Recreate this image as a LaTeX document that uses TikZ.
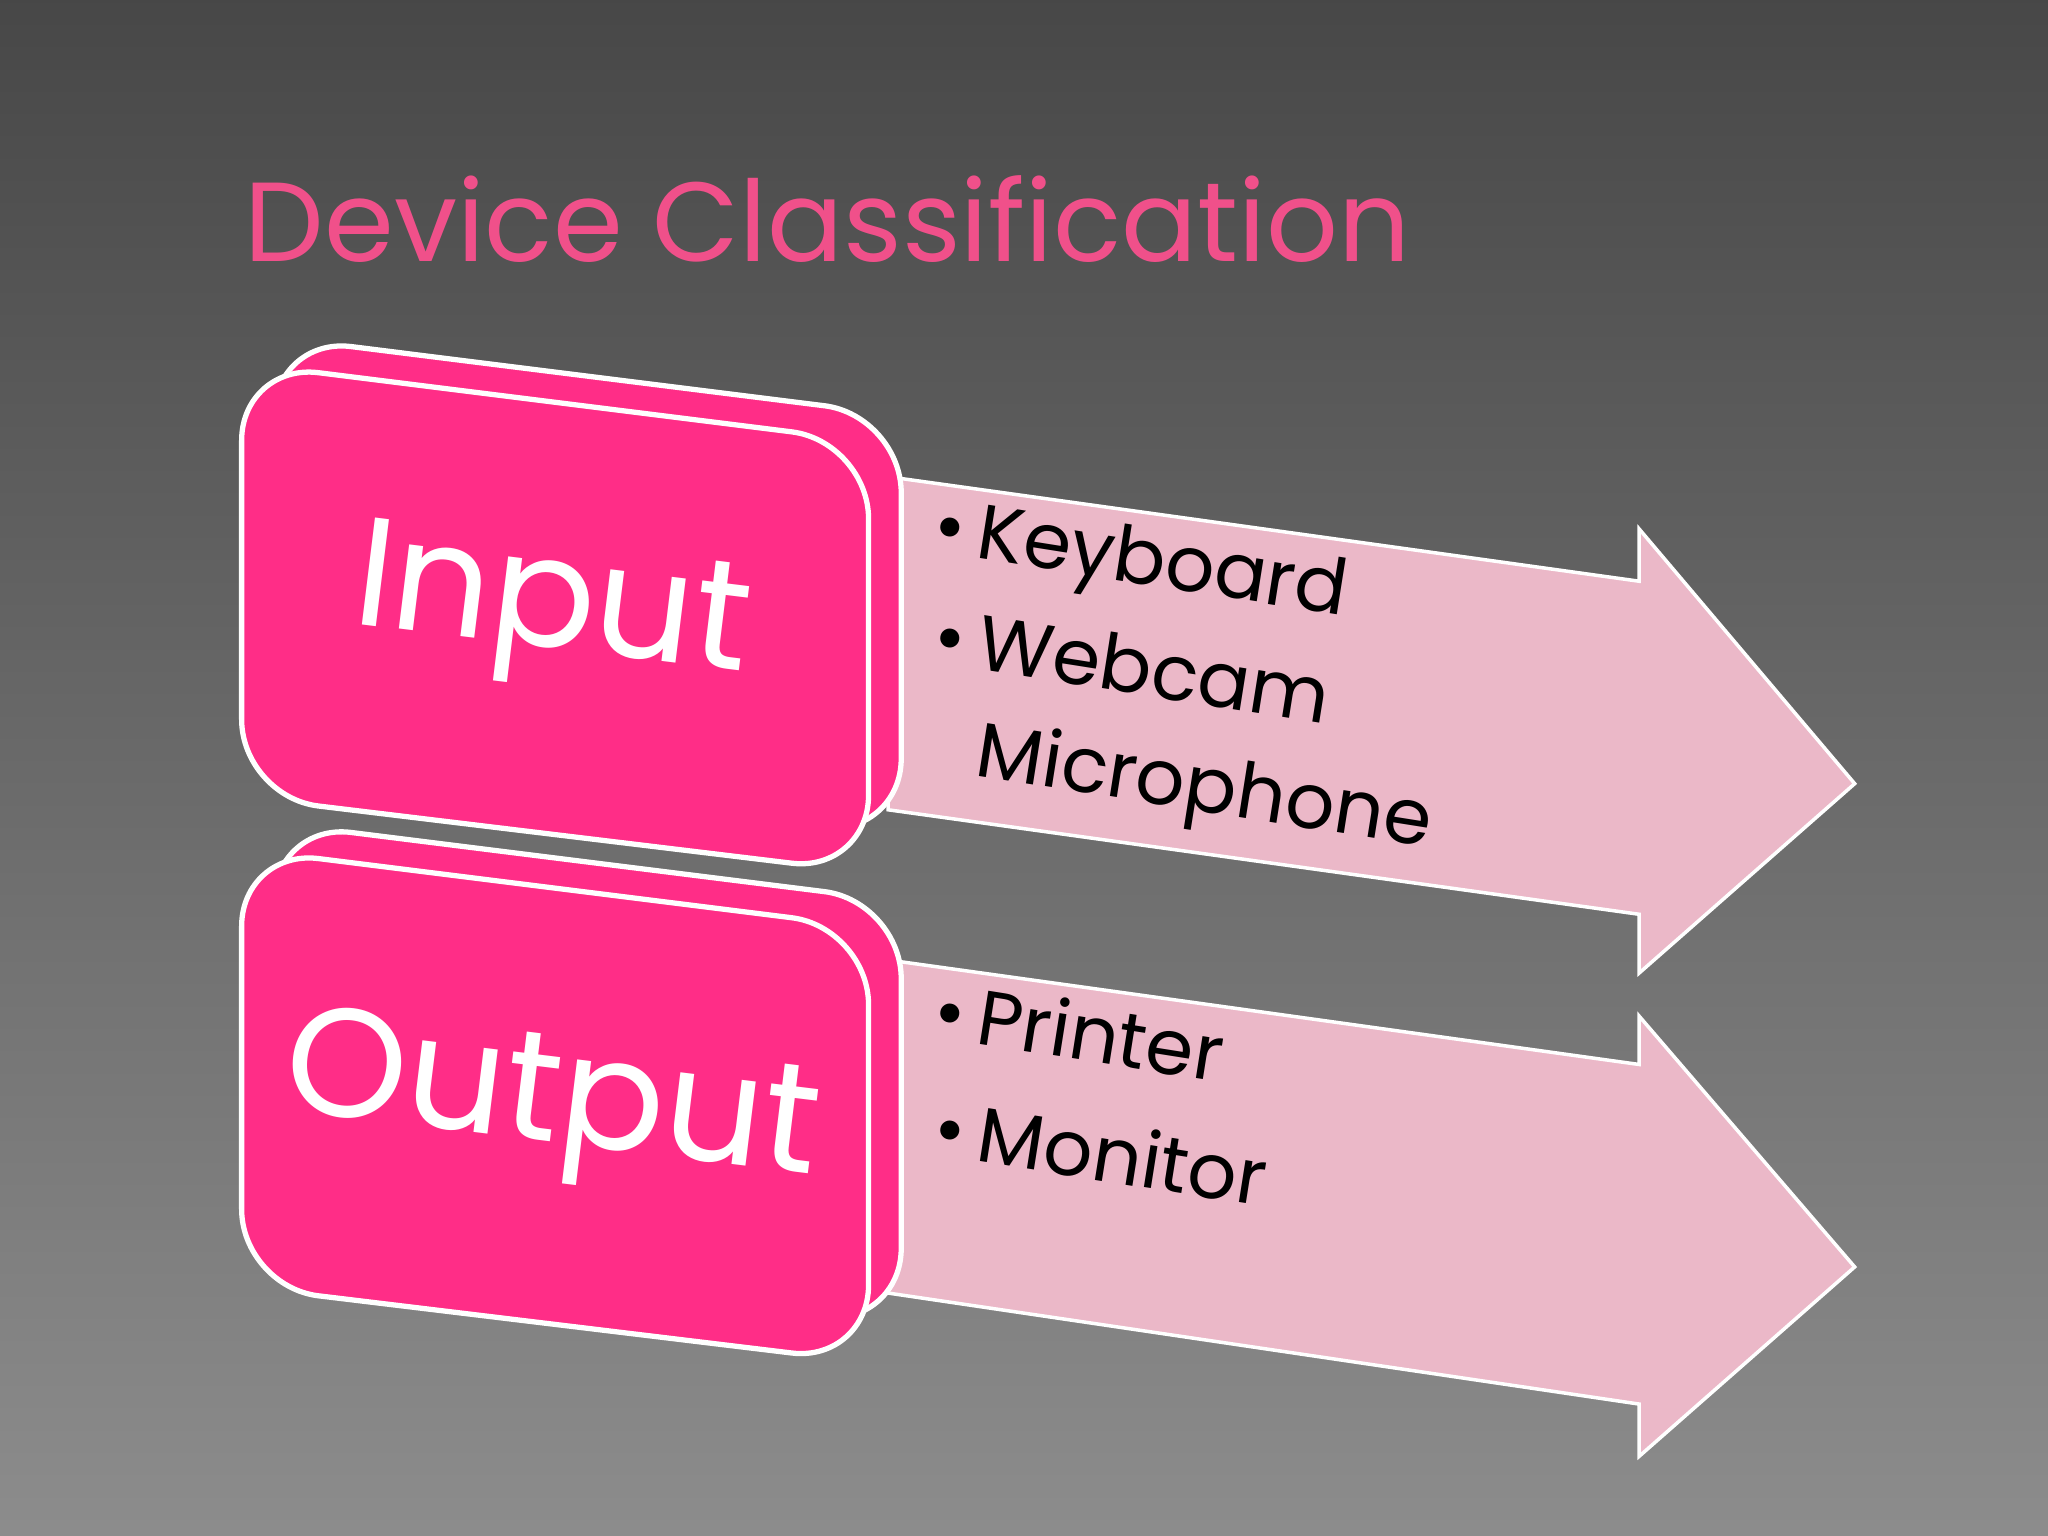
\documentclass[tikz,border=0pt]{standalone}
\usepackage{fontspec}
\setmainfont{Poppins}
\definecolor{hotpink}{HTML}{FF2D87}
\definecolor{lightpink}{HTML}{EBB8C8}
\definecolor{titlepink}{HTML}{F0508A}
\begin{document}
\begin{tikzpicture}[x=0.01306cm,y=-0.01306cm,
  boxface/.style={fill=hotpink,draw=white,line width=1.5pt,rounded corners=22pt},
  arrowshape/.style={fill=lightpink,draw=white,line width=1pt},
  bigword/.style={text=white,font=\fontsize{44}{46}\selectfont,rotate=-7},
  item/.style={text=black,font=\fontsize{22}{24}\selectfont,rotate=-9,anchor=base west}]
\useasboundingbox (0,0) rectangle (1568,1176);
\shade[top color=black!72,bottom color=black!45] (0,0) rectangle (1568,1176);
\node[anchor=base west,text=titlepink,font=\fontsize{32}{34}\selectfont] (title) at (178,200) {Device Classification};
\draw[arrowshape] (680,365) -- (1255,445) -- (1255,405) -- (1420,600) -- (1255,745) -- (1255,700) -- (680,620) -- cycle;
\draw[arrowshape] (680,735) -- (1255,815) -- (1255,778) -- (1420,970) -- (1255,1115) -- (1255,1075) -- (680,990) -- cycle;
\draw[boxface] (210,258) -- (690,318) -- (690,640) -- (210,588) -- cycle;
\draw[boxface] (185,278) -- (665,338) -- (665,668) -- (185,610) -- cycle;
\draw[boxface] (210,630) -- (690,690) -- (690,1015) -- (210,962) -- cycle;
\draw[boxface] (185,650) -- (665,710) -- (665,1043) -- (185,985) -- cycle;
\node[bigword] (input) at (422,470) {Input};
\node[bigword] (output) at (422,848) {Output};
\node[item] (kb) at (703,420) {\textbullet\,Keyboard};
\node[item] (wc) at (703,505) {\textbullet\,Webcam};
\node[item] (mic) at (736,592) {Microphone};
\node[item] (pr) at (703,792) {\textbullet\,Printer};
\node[item] (mo) at (703,882) {\textbullet\,Monitor};
\end{tikzpicture}
\end{document}
